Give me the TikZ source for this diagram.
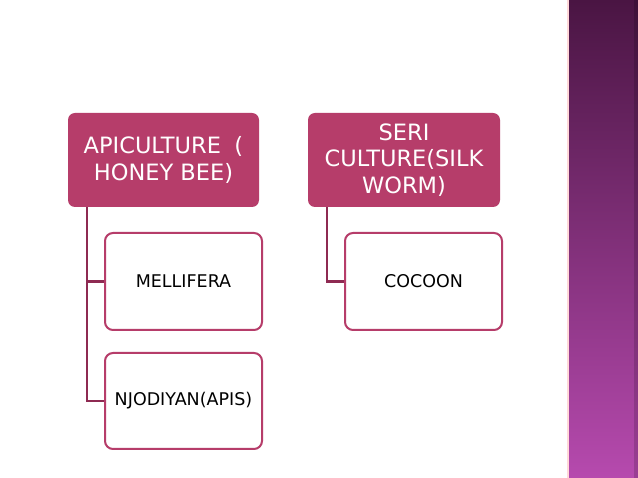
\documentclass[tikz,border=0pt]{standalone}
\usepackage{fontspec}
\setmainfont{DejaVu Sans}
\begin{document}
\begin{tikzpicture}[x=1pt,y=-1pt,
  headbox/.style={draw=none,fill=headfill,rounded corners=7pt,text=white,align=center,font=\fontsize{22.5}{26.5}\selectfont,inner sep=0pt},
  childbox/.style={draw=headfill,line width=2pt,fill=white,rounded corners=8pt,align=center,font=\fontsize{17.5}{20}\selectfont,inner sep=0pt},
  link/.style={draw=linkcol,line width=2.2pt}]
\definecolor{headfill}{HTML}{B63D6A}
\definecolor{linkcol}{HTML}{8E2A52}
\definecolor{bartop}{HTML}{4A1543}
\definecolor{barbot}{HTML}{B64AAE}
\useasboundingbox (0,0) rectangle (638,478);
\fill[white] (0,0) rectangle (638,478);
% right decorative bar
\shade[top color=bartop,bottom color=barbot] (569,0) rectangle (638,478);
\fill[pink!60!white] (567,0) rectangle (569,478);
\fill[black,opacity=0.15] (634,0) rectangle (638,478);
\coordinate (aT) at (87,206);
\coordinate (sT) at (327,206);
% header boxes
\node[headbox,minimum width=191pt,minimum height=94pt] (api) at (163.5,160) {APICULTURE\hspace{0.6em}(\\HONEY BEE)};
\node[headbox,minimum width=192pt,minimum height=94pt] (seri) at (404,160) {SERI\\CULTURE(SILK\\WORM)};
% child boxes
\node[childbox,minimum width=157pt,minimum height=97pt] (mel) at (183.5,281.5) {MELLIFERA};
\node[childbox,minimum width=157pt,minimum height=96pt] (njo) at (183.5,401) {NJODIYAN(APIS)};
\node[childbox,minimum width=157pt,minimum height=97pt] (coc) at (423.5,281.5) {COCOON};
\draw[link] (api.south -| aT) |- (mel.west);
\draw[link] (api.south -| aT) |- (njo.west);
\draw[link] (seri.south -| sT) |- (coc.west);
\end{tikzpicture}
\end{document}
